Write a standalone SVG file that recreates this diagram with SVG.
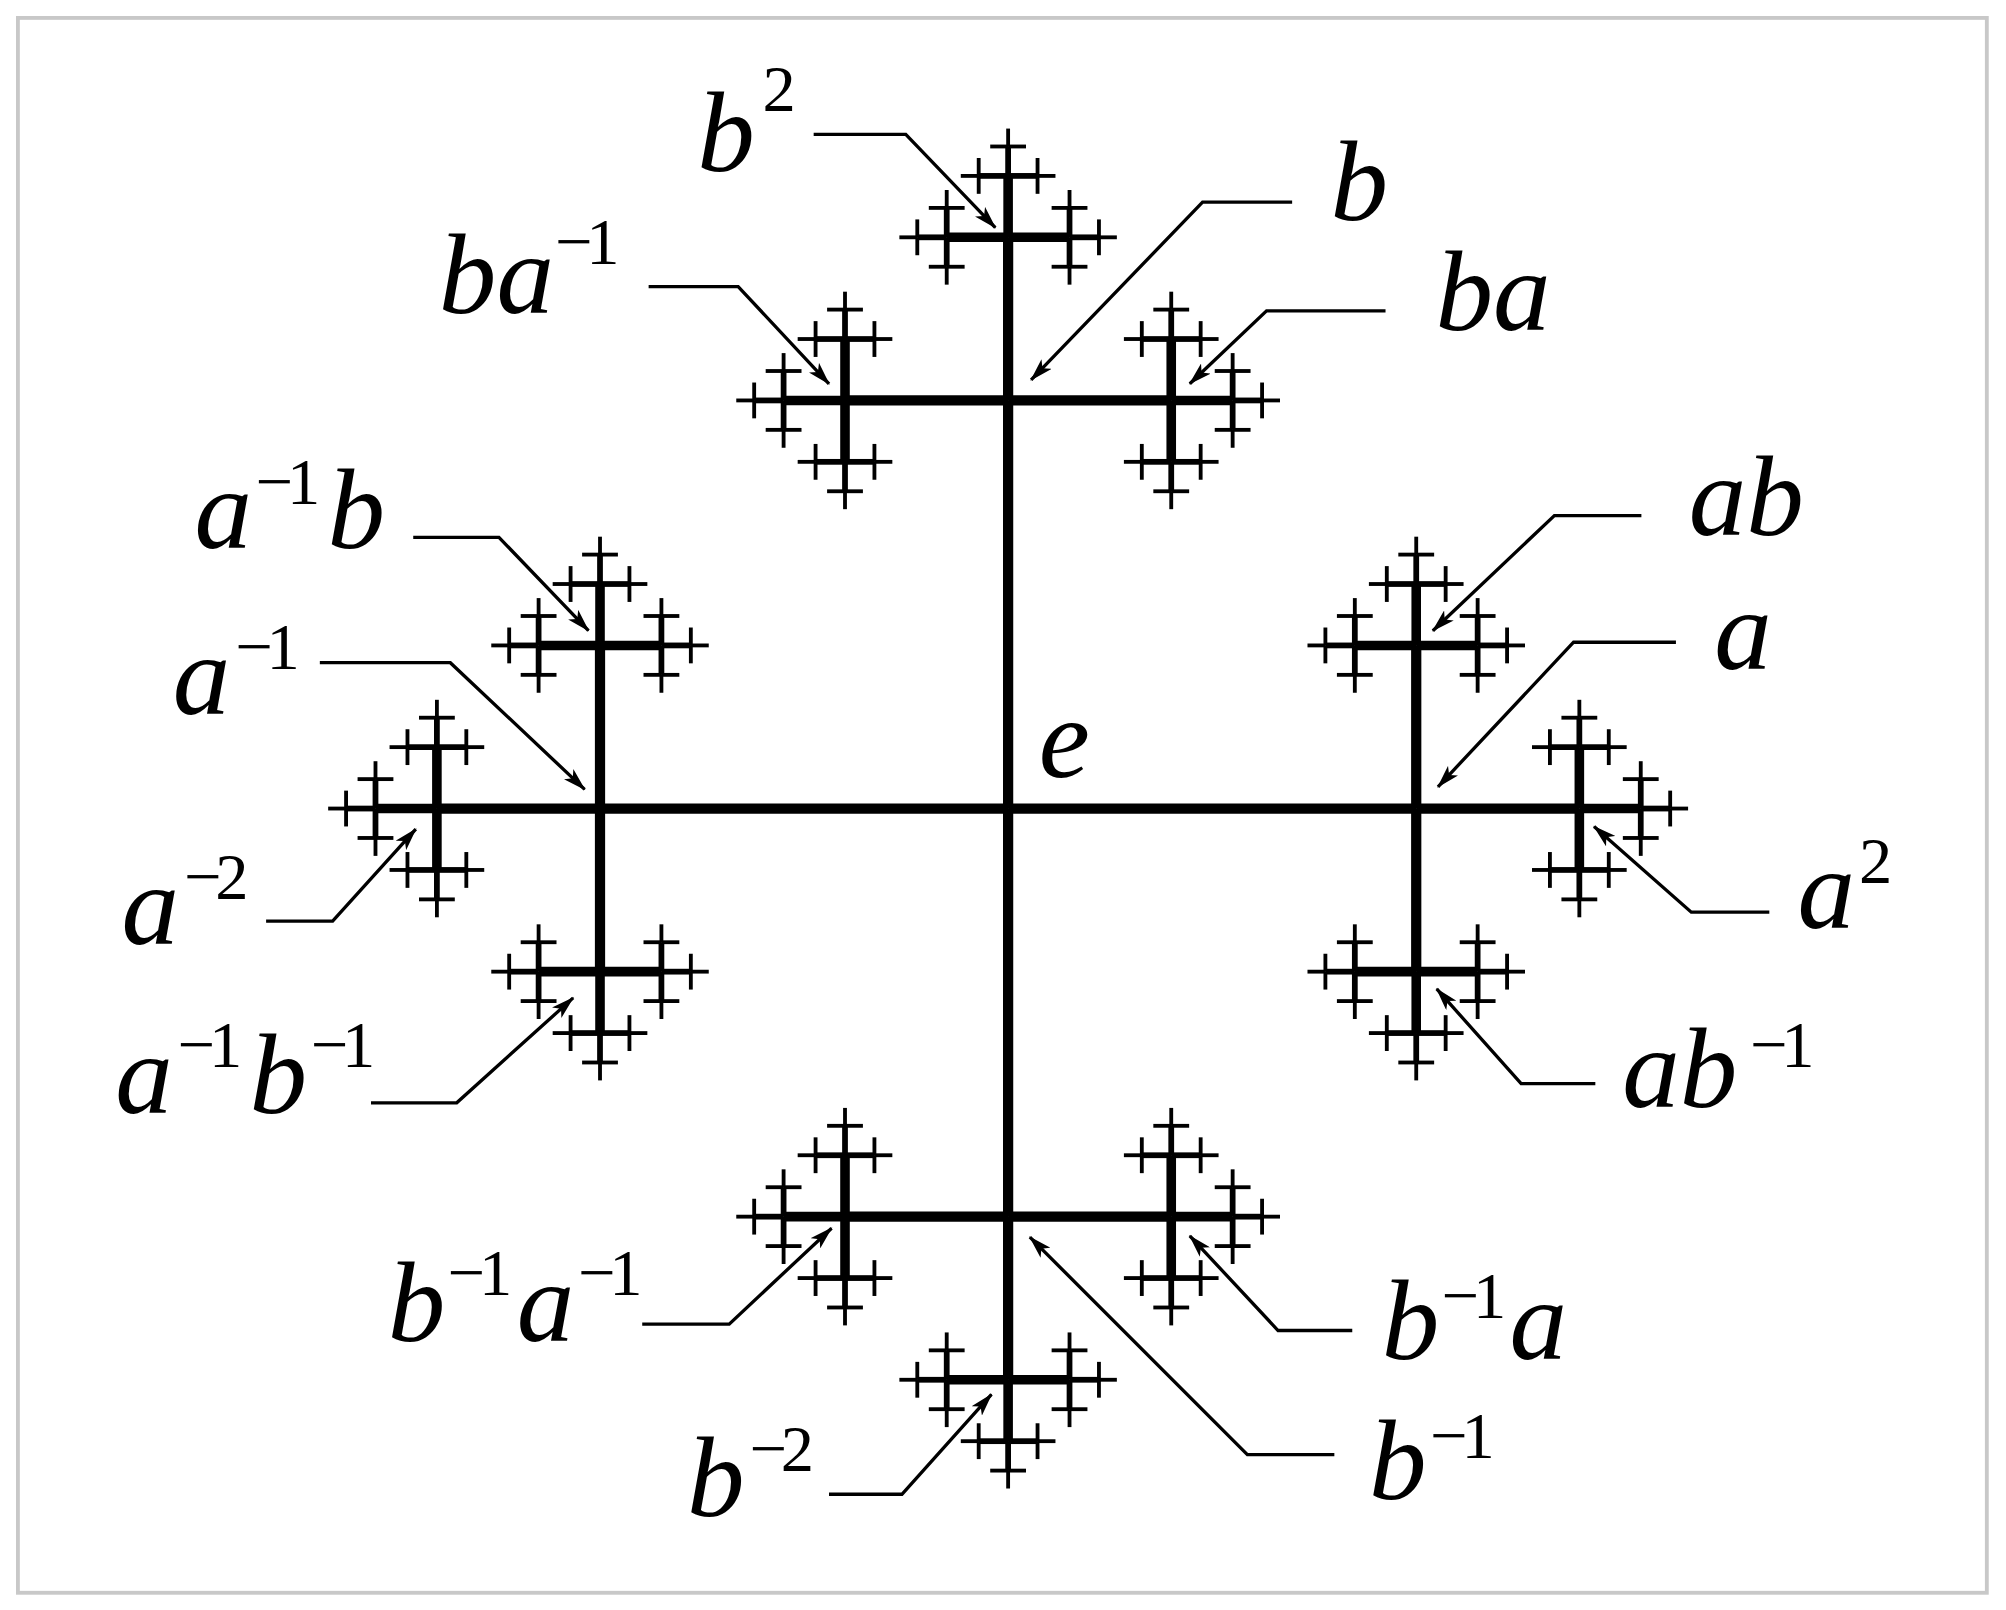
<svg xmlns="http://www.w3.org/2000/svg" xmlns:xlink="http://www.w3.org/1999/xlink" width="2006" height="1610" viewBox="0 0 2006 1610">
<style>
.t{font-family:"Liberation Serif","DejaVu Serif",serif;font-style:italic;font-size:90px;fill:#000}
.s{font-family:"Liberation Serif","DejaVu Serif",serif;font-style:normal;font-size:52px;letter-spacing:-5px}
.e line{stroke:#000;stroke-linecap:butt}
.w0{stroke-width:8}.w1{stroke-width:8}.w2{stroke-width:7.5}.w3{stroke-width:4.5}.w4{stroke-width:3}
.ld{fill:none;stroke:#000;stroke-width:2.6;marker-end:url(#ah)}
</style>
<defs>
<marker id="ah" viewBox="0 0 20 12" refX="19" refY="6" markerWidth="7" markerHeight="4.2" orient="auto" markerUnits="strokeWidth">
<path d="M0,0 L20,6 L0,12 L5,6 Z" fill="#000"/>
</marker>
<g id="B4" class="e"><line x1="0" y1="0" x2="14" y2="0" class="w4"/></g>
<g id="B3" class="e"><line x1="0" y1="0" x2="23" y2="0" class="w3"/>
<use xlink:href="#B4" transform="translate(23,0)"/><use xlink:href="#B4" transform="translate(23,0) rotate(90)"/><use xlink:href="#B4" transform="translate(23,0) rotate(-90)"/></g>
<g id="B2" class="e"><line x1="0" y1="0" x2="48" y2="0" class="w2"/>
<use xlink:href="#B3" transform="translate(48,0)"/><use xlink:href="#B3" transform="translate(48,0) rotate(90)"/><use xlink:href="#B3" transform="translate(48,0) rotate(-90)"/></g>
<g id="B1" class="e"><line x1="0" y1="0" x2="127.5" y2="0" class="w1"/>
<use xlink:href="#B2" transform="translate(127.5,0)"/><use xlink:href="#B2" transform="translate(127.5,0) rotate(90)"/><use xlink:href="#B2" transform="translate(127.5,0) rotate(-90)"/></g>
<g id="B0" class="e"><line x1="0" y1="0" x2="319" y2="0" class="w0"/>
<use xlink:href="#B1" transform="translate(319,0)"/><use xlink:href="#B1" transform="translate(319,0) rotate(90)"/><use xlink:href="#B1" transform="translate(319,0) rotate(-90)"/></g>
</defs>
<rect x="0" y="0" width="2006" height="1610" fill="#fff"/>
<g transform="scale(1.27934)">
<rect x="14" y="14" width="1539" height="1231" fill="none" stroke="#c8c8c8" stroke-width="3"/>
<g id="tree" transform="translate(788,632)">
<use xlink:href="#B0"/><use xlink:href="#B0" transform="rotate(90)"/><use xlink:href="#B0" transform="rotate(180)"/><use xlink:href="#B0" transform="rotate(270)"/>
</g>
<g id="connectors">
<polyline class="ld" points="636,105 708,105 778,178"/>
<polyline class="ld" points="1010,158 940,158 806,297"/>
<polyline class="ld" points="507,224 577,224 648,300"/>
<polyline class="ld" points="1083,243 990,243 930,300"/>
<polyline class="ld" points="323,420 390,420 460,493"/>
<polyline class="ld" points="1283,403 1215,403 1120,493"/>
<polyline class="ld" points="250,518 352,518 457,617"/>
<polyline class="ld" points="1310,502 1230,502 1124,615"/>
<polyline class="ld" points="208,720 260,720 325,648"/>
<polyline class="ld" points="1383,713 1322,713 1246,646"/>
<polyline class="ld" points="290,862 357,862 448,780"/>
<polyline class="ld" points="1247,847 1189,847 1123,773"/>
<polyline class="ld" points="502,1035 570,1035 650,960"/>
<polyline class="ld" points="1057,1040 999,1040 930,966"/>
<polyline class="ld" points="648,1168 705,1168 775,1090"/>
<polyline class="ld" points="1043,1137 975,1137 805,967"/>
</g>
<g id="n-e"><text class="t" x="812" y="607">e</text></g>
<g id="n-b2"><text class="t" x="545" y="134">b<tspan class="s" x="596" y="87">2</tspan></text></g>
<g id="n-b"><text class="t" x="1040" y="172">b</text></g>
<g id="n-bainv"><text class="t" x="343" y="245">ba<tspan class="s" x="434" y="206">−1</tspan></text></g>
<g id="n-ba"><text class="t" x="1122" y="258">ba</text></g>
<g id="n-ainvb"><text class="t" x="152" y="428">a<tspan class="s" x="200" y="394">−1</tspan><tspan x="256" y="428">b</tspan></text></g>
<g id="n-ab"><text class="t" x="1320" y="418">ab</text></g>
<g id="n-ainv"><text class="t" x="135" y="558">a<tspan class="s" x="184" y="523">−1</tspan></text></g>
<g id="n-a"><text class="t" x="1340" y="523">a</text></g>
<g id="n-a-2"><text class="t" x="95" y="738">a<tspan class="s" x="144" y="703">−2</tspan></text></g>
<g id="n-a2"><text class="t" x="1405" y="725">a<tspan class="s" x="1453" y="690">2</tspan></text></g>
<g id="n-ainvbinv"><text class="t" x="90" y="870">a<tspan class="s" x="139" y="834">−1</tspan><tspan x="195" y="870">b</tspan><tspan class="s" x="243" y="834">−1</tspan></text></g>
<g id="n-abinv"><text class="t" x="1268" y="865">ab<tspan class="s" x="1368" y="834">−1</tspan></text></g>
<g id="n-binvainv"><text class="t" x="303" y="1048">b<tspan class="s" x="350" y="1012">−1</tspan><tspan x="404" y="1048">a</tspan><tspan class="s" x="452" y="1012">−1</tspan></text></g>
<g id="n-binva"><text class="t" x="1080" y="1062">b<tspan class="s" x="1127" y="1030">−1</tspan><tspan x="1180" y="1062">a</tspan></text></g>
<g id="n-b-2"><text class="t" x="537" y="1185">b<tspan class="s" x="586" y="1150">−2</tspan></text></g>
<g id="n-binv"><text class="t" x="1070" y="1172">b<tspan class="s" x="1118" y="1140">−1</tspan></text></g>
</g>
</svg>
